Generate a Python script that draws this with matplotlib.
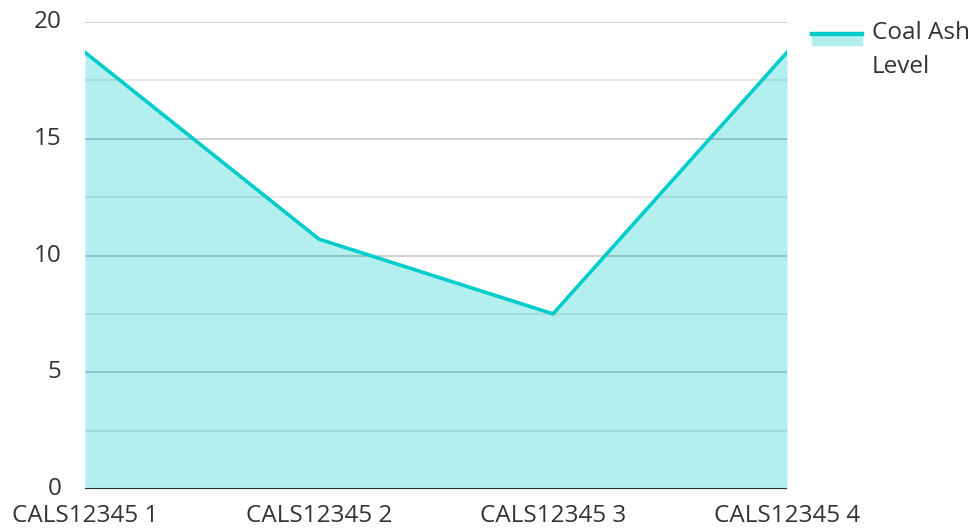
import matplotlib
matplotlib.use("Agg")
import matplotlib.pyplot as plt
from matplotlib.patches import Rectangle
from matplotlib.lines import Line2D

plt.rcParams['font.family'] = ['Open Sans', 'DejaVu Sans']

samples = ["CALS12345 1", "CALS12345 2", "CALS12345 3", "CALS12345 4"]
ash_level = [18.7, 10.7, 7.5, 18.7]
series_name = ["Coal Ash", "Level"]

line_col = "#00cccc"
fill_col = "#b2efee"
text_col = "#333333"
fs = 17.5

fig = plt.figure(figsize=(9.74, 5.28), dpi=100)
ax = fig.add_axes([85/974, 1-489/528, (787-85)/974, (489-22)/528])

x = list(range(len(samples)))
ax.fill_between(x, ash_level, 0, color=fill_col, linewidth=0, zorder=1)
ax.plot(x, ash_level, color=line_col, linewidth=2.6, zorder=3, solid_joinstyle='miter')

ax.set_xlim(0, len(samples) - 1)
ax.set_ylim(0, 20)

# grid lines drawn over the fill (semi-transparent)
for v in [2.5, 7.5, 12.5, 17.5]:
    ax.axhline(v, color="#000000", alpha=0.09, linewidth=1.3, zorder=2)
for v in [5, 10, 15, 20]:
    ax.axhline(v, color="#000000", alpha=0.2, linewidth=1.3, zorder=2)
ax.axhline(0, color="#333333", linewidth=2.2, zorder=4)

for s in ax.spines.values():
    s.set_visible(False)

ax.set_yticks([0, 5, 10, 15, 20])
ax.set_yticklabels(["0", "5", "10", "15", "20"])
ax.set_xticks(x)
ax.set_xticklabels(samples)
ax.tick_params(axis='both', length=0, labelsize=fs, labelcolor=text_col)
ax.tick_params(axis='y', pad=17)
ax.tick_params(axis='x', pad=10.5)
for lab in ax.get_yticklabels():
    lab.set_verticalalignment('center')

# legend
fig.patches.append(Rectangle((812/974, 1-45/528), 50/974, 12/528,
                             transform=fig.transFigure, color=fill_col, zorder=1))
fig.lines.append(Line2D([812/974, 862/974], [1-33.5/528, 1-33.5/528],
                        transform=fig.transFigure, color=line_col, linewidth=3.2, zorder=2))
fig.text(872/974, 1-33/528, series_name[0], fontsize=fs, color=text_col,
         va='center', ha='left')
fig.text(872/974, 1-67/528, series_name[1], fontsize=fs, color=text_col,
         va='center', ha='left')

fig.savefig("out.png", dpi=100)
